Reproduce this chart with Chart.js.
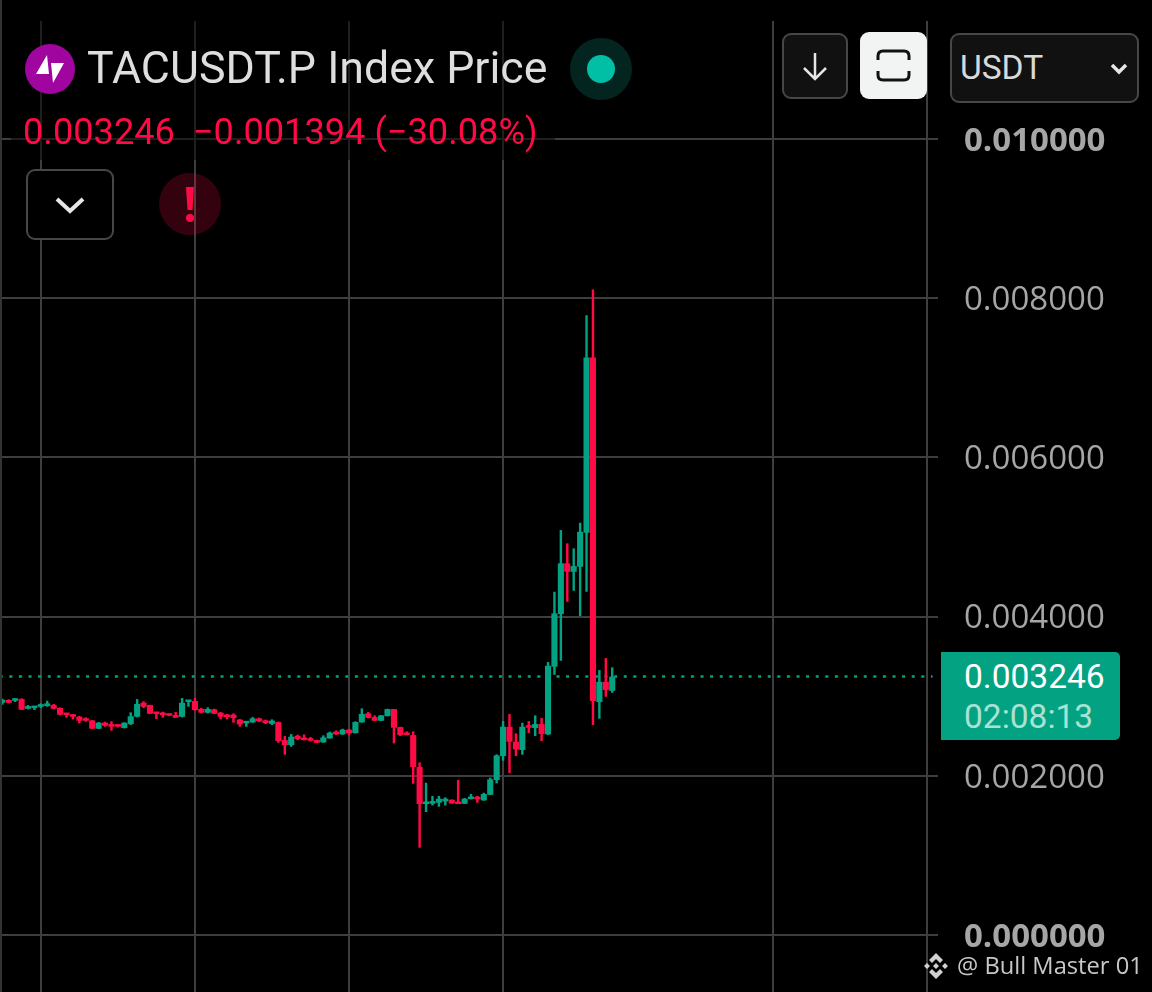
<!DOCTYPE html>
<html>
<head>
<meta charset="utf-8">
<title>TACUSDT.P Index Price</title>
<script src="https://cdn.jsdelivr.net/npm/chart.js@4"></script>
<style>
  html, body { margin: 0; padding: 0; background: #000; }
  #wrap { position: relative; width: 1152px; height: 992px; overflow: hidden; font-family: Roboto, sans-serif; }
  #wrap canvas { position: absolute; left: 0; top: 0; }
  .abs { position: absolute; white-space: pre; line-height: 1; }
  .btn { position: absolute; box-sizing: border-box; border: 2px solid #474747; border-radius: 9px; background: #111; }
  svg { position: absolute; overflow: visible; }
</style>
</head>
<body>
<div id="wrap">
  <canvas id="myChart" width="1152" height="992"></canvas>

  <!-- edge line and the dim band behind the legend -->
  <div style="position:absolute;left:0;top:0;width:2px;height:992px;background:#333"></div>
  <div style="position:absolute;left:11px;top:0;width:544px;height:160px;background:rgba(0,0,0,.5)"></div>

  <svg style="left:0;top:0" width="100" height="100">
    <circle cx="50" cy="69" r="25" fill="#a0069f"/>
    <path d="M36 74 L47 55 L49 74 Z M51 63 L64 63 L53 83 Z" fill="#fff"/>
  </svg>
  <div class="abs" style="left:87px;top:46px;font-size:44.7px;color:#dedede">TACUSDT.P Index Price</div>
  <svg style="left:570px;top:38px" width="62" height="62">
    <circle cx="31" cy="31" r="31" fill="#042420"/>
    <circle cx="31" cy="31" r="14" fill="#00bfa5"/>
  </svg>

  <div class="abs" style="left:23px;top:114px;font-size:36.2px;color:#ff0a45">0.003246  −0.001394 (−30.08%)</div>

  <div class="btn" style="left:26px;top:169px;width:88px;height:71px;background:#000"></div>
  <svg style="left:54px;top:197px" width="32" height="20">
    <path d="M3 2 L16 14 L29 2" fill="none" stroke="#e6e6e6" stroke-width="4"/>
  </svg>
  <svg style="left:159px;top:173px" width="62" height="62">
    <circle cx="31" cy="31" r="31" fill="#ff0a45" fill-opacity="0.2"/>
    <path d="M27 14 h8 l-1.5 23 h-5 Z" fill="#ff0a45"/>
    <circle cx="31" cy="45" r="4" fill="#ff0a45"/>
  </svg>

  <div class="btn" style="left:782px;top:33px;width:66px;height:66px"></div>
  <svg style="left:782px;top:33px" width="66" height="66">
    <path d="M33 20 V45 M22 35 L33 46 L44 35" fill="none" stroke="#e6e6e6" stroke-width="2.5"/>
  </svg>
  <div class="btn" style="left:860px;top:32px;width:67px;height:67px;background:#f2f4f3;border:none"></div>
  <svg style="left:860px;top:32px" width="67" height="67">
    <path d="M18 28 V24 Q18 19 23 19 H44 Q49 19 49 24 V28 M18 39 V43 Q18 48 23 48 H44 Q49 48 49 43 V39" fill="none" stroke="#111" stroke-width="3"/>
  </svg>
  <div class="btn" style="left:950px;top:33px;width:189px;height:70px"></div>
  <div class="abs" style="left:960px;top:51px;font-size:33.5px;color:#d9d9d9">USDT</div>
  <svg style="left:1110px;top:63px" width="18" height="12">
    <path d="M2 2 L9 9 L16 2" fill="none" stroke="#e6e6e6" stroke-width="3.5"/>
  </svg>

  <div style="position:absolute;left:941px;top:652px;width:179px;height:88px;background:#02a283;border-radius:0 5px 5px 0"></div>
  <div class="abs" style="left:964px;top:660px;font-size:33.5px;color:#fff">0.003246</div>
  <div class="abs" style="left:964px;top:700px;font-size:33.5px;color:#a9e2d3">02:08:13</div>

  <svg style="left:922px;top:952px" width="28" height="28">
    <path d="M14 1 L21 8 L18 11 L14 7 L10 11 L7 8 Z M14 27 L21 20 L18 17 L14 21 L10 17 L7 20 Z M2 14 L5 11 L8 14 L5 17 Z M26 14 L23 11 L20 14 L23 17 Z M14 11 L17 14 L14 17 L11 14 Z" fill="#d0d0d0"/>
  </svg>
  <div class="abs" style="left:957px;top:954px;font-size:23.7px;font-family:'Open Sans';color:#c8c8c8">@ Bull Master 01</div>
</div>

<script>
const opens = [
  0.002918, 0.002952, 0.002943, 0.002964, 0.002843, 0.002851, 0.002868, 0.002876, 0.002889, 0.002851,
  0.002784, 0.002768, 0.002742, 0.002717, 0.002696, 0.002592, 0.002667, 0.002650, 0.002638, 0.002600,
  0.002650, 0.002742, 0.002918, 0.002889, 0.002793, 0.002788, 0.002776, 0.002763, 0.002742, 0.002927,
  0.002939, 0.002839, 0.002793, 0.002835, 0.002793, 0.002768, 0.002768, 0.002705, 0.002659, 0.002671,
  0.002721, 0.002696, 0.002654, 0.002675, 0.002449, 0.002386, 0.002503, 0.002478, 0.002470, 0.002449,
  0.002420, 0.002470, 0.002554, 0.002520, 0.002579, 0.002537, 0.002671, 0.002784, 0.002738, 0.002692,
  0.002750, 0.002838, 0.002612, 0.002541, 0.002512, 0.002110, 0.001645, 0.001649, 0.001662, 0.001679,
  0.001699, 0.001666, 0.001649, 0.001708, 0.001737, 0.001691, 0.001762, 0.001947, 0.002248, 0.002616,
  0.002428, 0.002324, 0.002629, 0.002600, 0.002650, 0.002521, 0.003370, 0.004032, 0.004669, 0.004563,
  0.004626, 0.005053, 0.007256, 0.002926, 0.003181, 0.003068
];
const highs = [
  0.002969, 0.002960, 0.002973, 0.002973, 0.002889, 0.002872, 0.002910, 0.002943, 0.002902, 0.002860,
  0.002784, 0.002776, 0.002751, 0.002734, 0.002700, 0.002675, 0.002680, 0.002684, 0.002646, 0.002671,
  0.002797, 0.002964, 0.002935, 0.002893, 0.002797, 0.002805, 0.002780, 0.002801, 0.002977, 0.002952,
  0.002977, 0.002851, 0.002860, 0.002843, 0.002801, 0.002776, 0.002784, 0.002713, 0.002684, 0.002738,
  0.002730, 0.002705, 0.002709, 0.002680, 0.002499, 0.002524, 0.002516, 0.002520, 0.002487, 0.002453,
  0.002508, 0.002554, 0.002570, 0.002591, 0.002591, 0.002684, 0.002847, 0.002801, 0.002759, 0.002763,
  0.002842, 0.002838, 0.002616, 0.002558, 0.002558, 0.002168, 0.001913, 0.001746, 0.001746, 0.001729,
  0.001703, 0.001947, 0.001720, 0.001771, 0.001746, 0.001787, 0.001976, 0.002269, 0.002688, 0.002776,
  0.002533, 0.002666, 0.002688, 0.002759, 0.002726, 0.003429, 0.004312, 0.005087, 0.004920, 0.004857,
  0.005179, 0.007787, 0.008110, 0.003328, 0.003479, 0.003362
];
const lows = [
  0.002893, 0.002910, 0.002927, 0.002826, 0.002835, 0.002826, 0.002851, 0.002868, 0.002835, 0.002759,
  0.002730, 0.002709, 0.002659, 0.002680, 0.002588, 0.002588, 0.002617, 0.002567, 0.002608, 0.002596,
  0.002638, 0.002734, 0.002851, 0.002776, 0.002713, 0.002730, 0.002751, 0.002726, 0.002734, 0.002868,
  0.002818, 0.002784, 0.002784, 0.002776, 0.002709, 0.002709, 0.002667, 0.002617, 0.002617, 0.002667,
  0.002675, 0.002650, 0.002638, 0.002415, 0.002265, 0.002365, 0.002449, 0.002445, 0.002432, 0.002411,
  0.002415, 0.002466, 0.002516, 0.002516, 0.002508, 0.002533, 0.002667, 0.002721, 0.002688, 0.002688,
  0.002746, 0.002407, 0.002499, 0.002508, 0.001900, 0.001097, 0.001545, 0.001628, 0.001612, 0.001628,
  0.001649, 0.001645, 0.001645, 0.001704, 0.001662, 0.001687, 0.001758, 0.001905, 0.002189, 0.002035,
  0.002248, 0.002265, 0.002537, 0.002499, 0.002437, 0.002512, 0.003269, 0.003445, 0.004186, 0.004324,
  0.004007, 0.004312, 0.002638, 0.002717, 0.002993, 0.003043
];
const closes = [
  0.002952, 0.002918, 0.002964, 0.002830, 0.002868, 0.002872, 0.002897, 0.002910, 0.002843, 0.002768,
  0.002763, 0.002742, 0.002692, 0.002692, 0.002592, 0.002667, 0.002629, 0.002617, 0.002617, 0.002667,
  0.002747, 0.002902, 0.002868, 0.002780, 0.002776, 0.002763, 0.002755, 0.002730, 0.002918, 0.002948,
  0.002826, 0.002793, 0.002839, 0.002780, 0.002742, 0.002738, 0.002726, 0.002646, 0.002684, 0.002721,
  0.002684, 0.002663, 0.002692, 0.002436, 0.002386, 0.002491, 0.002462, 0.002449, 0.002441, 0.002415,
  0.002482, 0.002541, 0.002520, 0.002579, 0.002533, 0.002675, 0.002776, 0.002729, 0.002692, 0.002759,
  0.002838, 0.002604, 0.002512, 0.002512, 0.002110, 0.001645, 0.001670, 0.001683, 0.001712, 0.001712,
  0.001653, 0.001645, 0.001712, 0.001737, 0.001704, 0.001771, 0.001955, 0.002256, 0.002616, 0.002428,
  0.002332, 0.002616, 0.002604, 0.002650, 0.002525, 0.003382, 0.004040, 0.004669, 0.004563, 0.004635,
  0.005065, 0.007256, 0.002939, 0.003181, 0.003077, 0.003246
];
const lastPrice = 0.003246;
const priceTicks = [0, 0.002, 0.004, 0.006, 0.008, 0.01];
const timeGrid = [6, 30, 54, 78, 120, 144];

const green = "#02a283";
const red = "#ff0a45";
const gridColor = "#3e3e3e";

const candleColors = closes.map((c, i) => (c >= opens[i] ? green : red));
const wicks = highs.map((h, i) => ({ x: i, y: [lows[i], h] }));
const bodies = opens.map((o, i) => ({ x: i, y: [Math.min(o, closes[i]), Math.max(o, closes[i])] }));

new Chart(document.getElementById("myChart"), {
  type: "bar",
  data: {
    datasets: [
      {
        type: "line",
        data: [
          { x: -0.4, y: lastPrice },
          { x: 144.9, y: lastPrice },
        ],
        borderColor: green,
        borderWidth: 2.5,
        borderDash: [3, 6.6],
        pointRadius: 0,
        clip: false,
        order: 3,
      },
      {
        data: wicks,
        backgroundColor: candleColors,
        barPercentage: 0.38,
        categoryPercentage: 1,
        grouped: false,
        inflateAmount: 0,
        order: 2,
      },
      {
        data: bodies,
        backgroundColor: candleColors,
        barPercentage: 0.95,
        categoryPercentage: 1,
        grouped: false,
        inflateAmount: 0,
        minBarLength: 2.5,
        order: 1,
      },
    ],
  },
  options: {
    responsive: false,
    animation: false,
    devicePixelRatio: 1,
    layout: { padding: { top: 21 }, autoPadding: false },
    plugins: { legend: { display: false }, tooltip: { enabled: false } },
    scales: {
      x: {
        type: "linear",
        offset: false,
        min: -0.36,
        max: 144.03,
        grid: { color: gridColor, lineWidth: 2, drawTicks: false, offset: false },
        border: { display: false },
        ticks: { display: false },
        afterBuildTicks: (axis) => {
          axis.ticks = timeGrid.map((v) => ({ value: v }));
        },
        afterFit: (axis) => {
          axis.height = 0;
        },
      },
      y: {
        position: "right",
        min: -0.000716,
        max: 0.011482,
        grid: { color: gridColor, lineWidth: 2, tickLength: 11 },
        border: { display: false },
        ticks: {
          padding: 26,
          labelOffset: 2.5,
          color: "#a6a6a6",
          crossAlign: "near",
          font: (c) => {
            const edge = c.tick && (c.tick.value === 0 || c.tick.value === 0.01);
            return { family: "'Open Sans'", size: 33, weight: edge ? "bold" : "normal" };
          },
          callback: (v) => v.toFixed(6),
        },
        afterBuildTicks: (axis) => {
          axis.ticks = priceTicks.map((v) => ({ value: v }));
        },
        afterFit: (axis) => {
          axis.width = 225;
          axis.paddingTop = 0;
          axis.paddingBottom = 0;
        },
      },
    },
  },
});
</script>
</body>
</html>
